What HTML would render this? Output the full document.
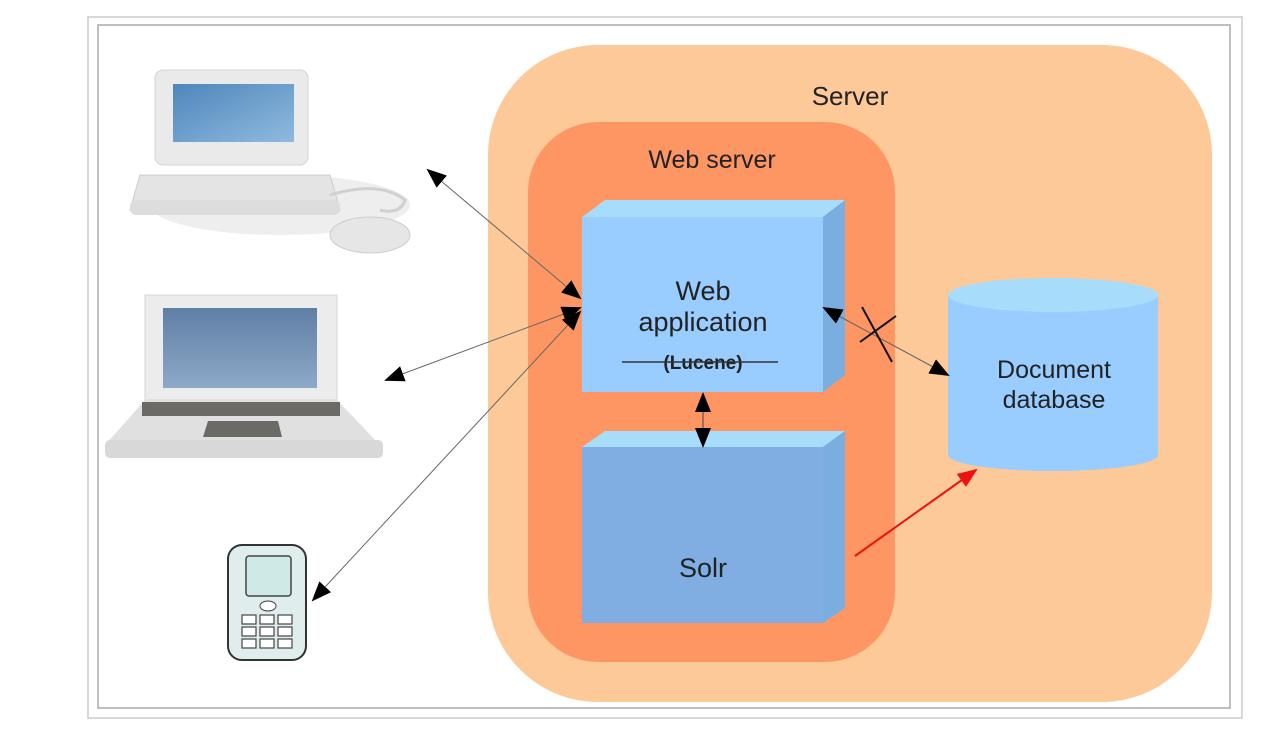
<!DOCTYPE html>
<html><head><meta charset="utf-8"><style>
html,body{margin:0;padding:0;background:#fff;width:1275px;height:741px;overflow:hidden}
text{font-family:"Liberation Sans",sans-serif;fill:#222}
</style></head><body>
<svg width="1275" height="741" viewBox="0 0 1275 741" xmlns="http://www.w3.org/2000/svg">
<defs>
<marker id="ahb" markerWidth="20" markerHeight="16" refX="18" refY="8" orient="auto-start-reverse" markerUnits="userSpaceOnUse" viewBox="0 0 20 16"><path d="M0,0 L20,8 L0,16z" fill="#000"/></marker>
<marker id="ahr" markerWidth="20" markerHeight="16" refX="18" refY="8" orient="auto" markerUnits="userSpaceOnUse" viewBox="0 0 20 16"><path d="M0,0 L20,8 L0,16z" fill="#ee1111"/></marker>
<linearGradient id="scr" x1="0" y1="0" x2="1" y2="1"><stop offset="0" stop-color="#4f86bb"/><stop offset="1" stop-color="#8fbadf"/></linearGradient>
<linearGradient id="scr2" x1="0" y1="0" x2="0" y2="1"><stop offset="0" stop-color="#5f7fa5"/><stop offset="1" stop-color="#8ea9c8"/></linearGradient>
</defs>
<rect x="88" y="17" width="1154" height="701" fill="none" stroke="#ccc" stroke-width="1.5"/>
<rect x="98" y="25" width="1132" height="683" fill="#fff" stroke="#aaa" stroke-width="1.5"/>
<rect x="488" y="45" width="724" height="657" rx="110" fill="#fdc998"/>
<rect x="528" y="122" width="367" height="540" rx="70" fill="#fe9664"/>
<text x="850" y="105" font-size="26" text-anchor="middle">Server</text>
<text x="712" y="168" font-size="25" text-anchor="middle">Web server</text>
<polygon points="582,217 605,200 845,200 823,217" fill="#a8dcfb"/>
<polygon points="823,217 845,200 845,375 823,392" fill="#7aaee0"/>
<rect x="582" y="217" width="241" height="175" fill="#99ccff"/>
<text x="703" y="300" font-size="27" text-anchor="middle">Web</text>
<text x="703" y="331" font-size="27" text-anchor="middle">application</text>
<text x="703" y="369" font-size="19" font-weight="bold" text-anchor="middle">(Lucene)</text>
<line x1="622" y1="362" x2="778" y2="362" stroke="#333" stroke-width="1.5"/>
<polygon points="582,447 605,431 845,431 823,447" fill="#a8dcfb"/>
<polygon points="823,447 845,431 845,608 823,623" fill="#7aaee0"/>
<rect x="582" y="447" width="241" height="176" fill="#80aee3"/>
<text x="703" y="577" font-size="27" text-anchor="middle">Solr</text>
<rect x="948" y="295" width="210" height="160" fill="#99ccff"/>
<ellipse cx="1053" cy="455" rx="105" ry="16" fill="#99ccff"/>
<ellipse cx="1053" cy="295" rx="105" ry="17" fill="#a8dcfb"/>
<text x="1054" y="378" font-size="25" text-anchor="middle">Document</text>
<text x="1054" y="408" font-size="25" text-anchor="middle">database</text>
<line x1="580" y1="298" x2="428" y2="170" stroke="#666" stroke-width="1" marker-end="url(#ahb)" marker-start="url(#ahb)"/>
<line x1="580" y1="308" x2="386" y2="380" stroke="#666" stroke-width="1" marker-end="url(#ahb)" marker-start="url(#ahb)"/>
<line x1="580" y1="312" x2="313" y2="600" stroke="#666" stroke-width="1" marker-start="url(#ahb)" marker-end="url(#ahb)"/>
<line x1="824" y1="308" x2="948" y2="375" stroke="#666" stroke-width="1" marker-end="url(#ahb)" marker-start="url(#ahb)"/>
<line x1="860" y1="342" x2="896" y2="316" stroke="#111" stroke-width="2"/>
<line x1="862" y1="307" x2="892" y2="362" stroke="#111" stroke-width="2"/>
<line x1="703" y1="394" x2="703" y2="446" stroke="#444" stroke-width="1" marker-end="url(#ahb)" marker-start="url(#ahb)"/>
<line x1="855" y1="556" x2="976" y2="470" stroke="#ee1111" stroke-width="2" marker-end="url(#ahr)"/>
<ellipse cx="280" cy="205" rx="130" ry="30" fill="#eee"/>
<rect x="155" y="70" width="153" height="95" rx="8" fill="#eaeaea" stroke="#d4d4d4"/>
<rect x="173" y="84" width="121" height="58" fill="url(#scr)"/>
<path d="M140,175 L330,175 L340,210 L130,210 Z" fill="#e4e4e4" stroke="#ccc"/>
<rect x="130" y="200" width="210" height="15" rx="6" fill="#ddd"/>
<path d="M330,195 Q380,180 405,200 Q400,215 380,210" fill="none" stroke="#d0d0d0" stroke-width="3"/>
<ellipse cx="370" cy="235" rx="40" ry="18" fill="#e6e6e6" stroke="#ccc"/>
<rect x="145" y="295" width="192" height="105" fill="#ececec" stroke="#d6d6d6"/>
<rect x="163" y="308" width="154" height="80" fill="url(#scr2)"/>
<path d="M145,400 L337,400 L380,445 L105,445 Z" fill="#e0e0e0"/>
<rect x="142" y="402" width="198" height="14" fill="#6b6a66"/>
<path d="M208,421 L278,421 L282,437 L203,437 Z" fill="#6b6a66"/>
<rect x="105" y="440" width="278" height="18" rx="5" fill="#d8d8d8"/>
<rect x="228" y="545" width="78" height="115" rx="14" fill="#dfeeed" stroke="#333" stroke-width="2"/>
<rect x="246" y="556" width="45" height="40" rx="3" fill="#cfe9e6" stroke="#444" stroke-width="1.5"/>
<ellipse cx="268" cy="606" rx="8" ry="5" fill="#fff" stroke="#444"/>
<g fill="#fff" stroke="#444" stroke-width="1.2">
<rect x="242" y="615" width="14" height="9"/><rect x="260" y="615" width="14" height="9"/><rect x="278" y="615" width="14" height="9"/>
<rect x="242" y="627" width="14" height="9"/><rect x="260" y="627" width="14" height="9"/><rect x="278" y="627" width="14" height="9"/>
<rect x="242" y="639" width="14" height="9"/><rect x="260" y="639" width="14" height="9"/><rect x="278" y="639" width="14" height="9"/>
</g>
</svg>
</body></html>
